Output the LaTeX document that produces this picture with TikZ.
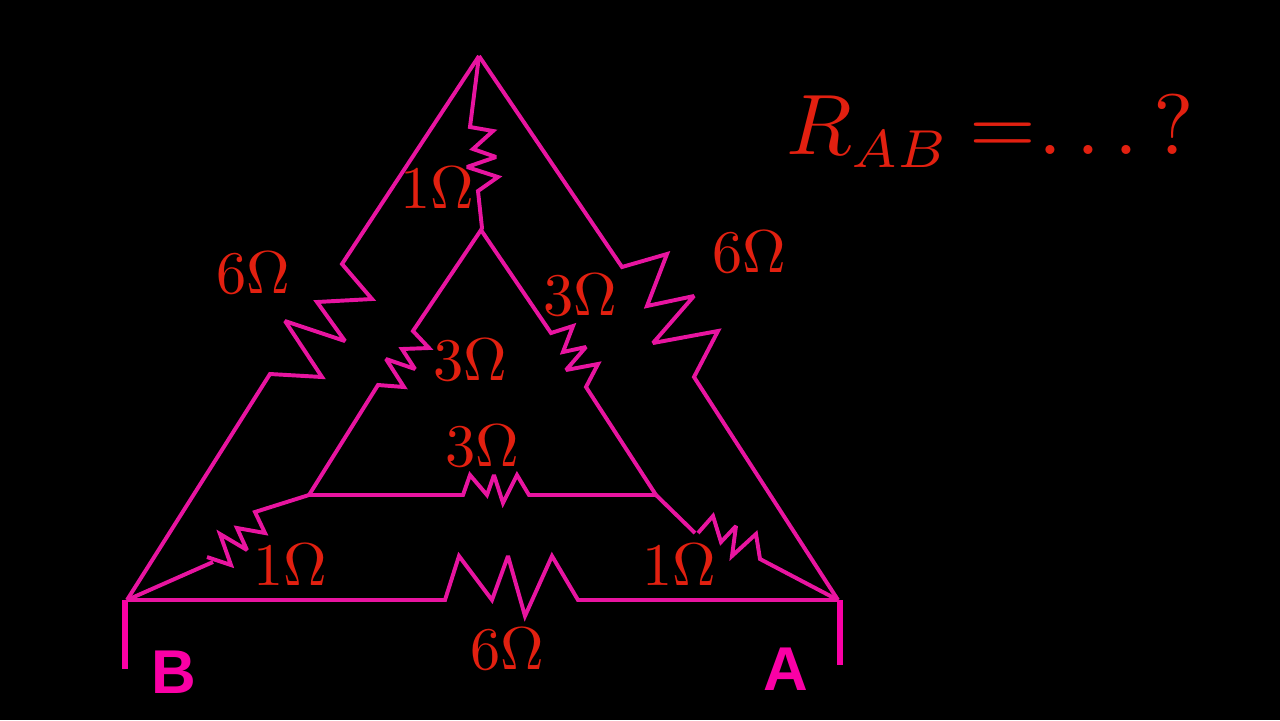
\documentclass[tikz,border=0pt]{standalone}
\usepackage{amsmath}
\usepackage{fontspec}
\newfontfamily\labelfont{Liberation Sans}
\definecolor{wirepink}{RGB}{232,20,160}
\definecolor{termpink}{RGB}{250,0,165}
\definecolor{ohmred}{RGB}{226,32,16}
\begin{document}
\begin{tikzpicture}[x=0.0125cm,y=-0.0125cm,
  wire/.style={draw=wirepink,line width=1.4pt,line join=miter,miter limit=3},
  terminal/.style={draw=termpink,line width=2pt},
  ohm/.style={text=ohmred,inner sep=0pt,scale=2.15,transform shape},
  query/.style={text=ohmred,inner sep=0pt,scale=3.05,transform shape},
  pole/.style={text=termpink,inner sep=0pt,font=\labelfont\bfseries\fontsize{22}{22}\selectfont}
]
\fill[black] (0,0) rectangle (1280,720);
\coordinate (t) at (479,56);
\coordinate (b) at (127,600);
\coordinate (a) at (838,600);
\coordinate (it) at (481,230);
\coordinate (il) at (309,495);
\coordinate (ir) at (656,495);
\coordinate (b1) at (125,600);
\coordinate (b2) at (125,669);
\coordinate (a1) at (840,600);
\coordinate (a2) at (840,665);
\draw[terminal] (b1) -- (b2);
\draw[terminal] (a1) -- (a2);
% outer triangle
\draw[wire] (t) -- (342,264) -- (372,299) -- (317,302) -- (345,341) -- (285,321) -- (322,377) -- (270,374) -- (b);
\draw[wire] (t) -- (622,267) -- (667,254) -- (647,306) -- (694,296) -- (653,343) -- (718,331) -- (694,377) -- (a);
\draw[wire] (b) -- (445,600) -- (459,556) -- (492,600) -- (508,556) -- (525,616) -- (552,556) -- (578,600) -- (a);
% inner triangle
\draw[wire] (it) -- (413,331) -- (429,348) -- (402,349) -- (415,369) -- (386,359) -- (404,387) -- (378,385) -- (il);
\draw[wire] (it) -- (551,333) -- (573,326) -- (563,352) -- (586,347) -- (566,370) -- (598,364) -- (586,387) -- (ir);
\draw[wire] (il) -- (463,495) -- (470,475) -- (487,495) -- (494,475) -- (503,503) -- (517,475) -- (529,495) -- (ir);
% spokes
\draw[wire] (t) -- (470,127) -- (493,131) -- (473,149) -- (496,157) -- (467,167) -- (498,177) -- (478,191) -- (482,228) -- (it);
\draw[wire] (b) -- (213,562);
\draw[wire] (207,557) -- (231,565) -- (220,534) -- (247,550) -- (237,528) -- (265,533) -- (255,512) -- (il);
\draw[wire] (ir) -- (695,533);
\draw[wire] (698,533) -- (713,516) -- (721,542) -- (736,526) -- (732,556) -- (756,534) -- (760,559) -- (a);
% labels
\node[ohm] (r1) at (437,188) {$1\Omega$};
\node[ohm] (r2) at (253,273) {$6\Omega$};
\node[ohm] (r3) at (749,252) {$6\Omega$};
\node[ohm] (r4) at (580,295) {$3\Omega$};
\node[ohm] (r5) at (470,360) {$3\Omega$};
\node[ohm] (r6) at (482,446) {$3\Omega$};
\node[ohm] (r7) at (290,565) {$1\Omega$};
\node[ohm] (r8) at (679,565) {$1\Omega$};
\node[ohm] (r9) at (507,649) {$6\Omega$};
\node[pole] (pa) at (786,669) {A};
\node[pole] (pb) at (174,672) {B};
\node[query] (rab) at (990,131) {$R_{\scalebox{.89}{$\scriptstyle AB$}}\mkern4mu{=}\mkern-2.5mu\ldots\mkern3mu?$};
\useasboundingbox (0,0) rectangle (1280,720);
\end{tikzpicture}
\end{document}
